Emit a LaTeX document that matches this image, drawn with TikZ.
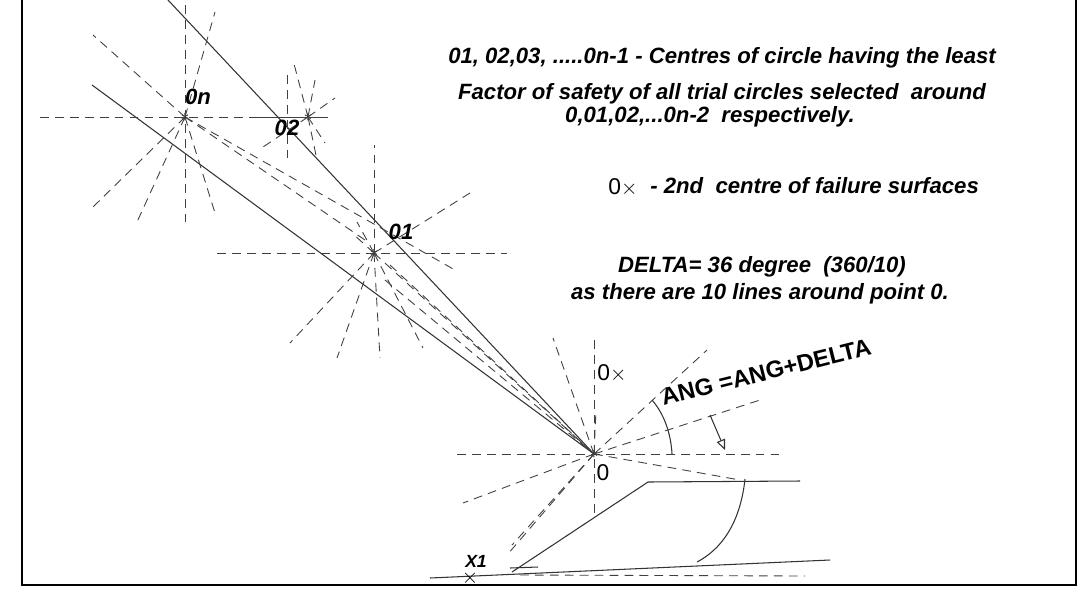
\documentclass[tikz,border=0pt]{standalone}
\usepackage{fontspec}
\setmainfont{Liberation Sans}
\usetikzlibrary{arrows.meta}
\begin{document}
\begin{tikzpicture}[x=0.02cm,y=-0.02cm,
  dsh/.style={draw=black!75,dash pattern=on 5pt off 3.5pt,line width=0.5pt},
  sol/.style={draw=black!80,line width=0.6pt},
  txt/.style={font=\bfseries\itshape\fontsize{12.6}{14}\selectfont,inner sep=0pt},
  lbl/.style={font=\fontsize{13}{14}\selectfont,inner sep=0pt},
  star/.style={font=\fontsize{10}{10}\selectfont,inner sep=0pt}]
\useasboundingbox (0,0) rectangle (1087,592);
\fill[white] (0,0) rectangle (1087,592);
\draw[line width=1.6pt] (22,0) -- (22,585) -- (1076,585) -- (1076,0);
% centres
\coordinate (On) at (185,117);
\coordinate (O2) at (308,117);
\coordinate (O1) at (374,253);
\coordinate (O) at (594,454);
\coordinate (T1) at (168,0);
\coordinate (T2) at (92,85);
\foreach \c in {On,O2,O1,O} \node[star] at (\c) {$\ast$};
% solid lines
\draw[sol] (T1) -- (O);
\draw[sol] (T2) -- (O);
% On rays
\draw[dsh] (40,117) -- (328,117);
\draw[dsh] (185,5) -- (185,222);
\foreach \p in {(93,35),(215,12),(93,207),(137,222),(215,213),(365,240),(455,270)}
  \draw[dsh] (On) -- \p;
% O2 rays
\draw[dsh] (255,117) -- (328,117);
\draw[dsh] (287,75) -- (287,160);
\foreach \p in {(293,60),(335,98),(315,80),(263,147),(317,160),(325,143)}
  \draw[dsh] (O2) -- \p;
% O1 rays
\draw[dsh] (217,253) -- (507,253);
\draw[dsh] (O1) -- (374,145);
\draw[dsh] (O1) -- (380,358);
\foreach \p in {(470,193),(290,343),(337,358),(423,348),(352,233),(357,222)}
  \draw[dsh] (O1) -- \p;
\draw[dsh] (O1) -- (O);
\draw[dsh] (390,265) -- (O);
\draw[dsh] (385,280) -- (O);
% O rays
\draw[dsh] (457,454) -- (780,454);
\draw[dsh] (594,340) -- (594,515);
\foreach \p in {(553,338),(707,350),(760,400),(463,503),(512,545),(507,555),(740,480),(596,410)}
  \draw[dsh] (O) -- \p;
% slope
\draw[sol] (430,578) -- (830,560);
\draw[sol] (512,572) -- (648,482) -- (800,481);
\draw[dsh] (520,575) -- (805,576);
\draw[sol] (510,568) -- (538,567);
\draw[sol] (745,479) .. controls (740,525) and (720,550) .. (697,562);
\node[lbl] at (470,578) {$\times$};
% ANG arc and arrow
\draw[sol] (652,400) .. controls (665,415) and (671,435) .. (672,454);
\draw[sol,-{Triangle[open,length=6pt,width=5pt]}] (710,415) -- (725,450);
% texts
\node[txt] (t1) at (722,58) {01, 02,03, .....0n-1 - Centres of circle having the least};
\node[txt] (t2) at (722,94) {Factor of safety of all trial circles selected\ \ around};
\node[txt] (t3) at (710,117) {0,01,02,...0n-2\ \ respectively.};
\node[lbl,anchor=west] (t4) at (608,187) {0$\times$};
\node[txt,anchor=west] (t5) at (650,186) {- 2nd\ \ centre of failure surfaces};
\node[txt] (t6) at (762,267) {DELTA= 36 degree\ \ (360/10)};
\node[txt] (t7) at (760,294) {as there are 10 lines around point 0.};
\node[txt,rotate=14,font=\bfseries\fontsize{13.5}{15}\selectfont] (t8) at (766,372) {ANG =ANG+DELTA};
\node[txt] (lOn) at (198,97) {0n};
\node[txt] (lO2) at (287,128) {02};
\node[txt] (lO1) at (401,232) {01};
\node[lbl,anchor=west] (lOx) at (597,373) {0$\times$};
\node[lbl] (lO) at (603,473) {0};
\node[txt,font=\bfseries\itshape\fontsize{10}{11}\selectfont] (lX1) at (476,561) {X1};
\end{tikzpicture}
\end{document}
